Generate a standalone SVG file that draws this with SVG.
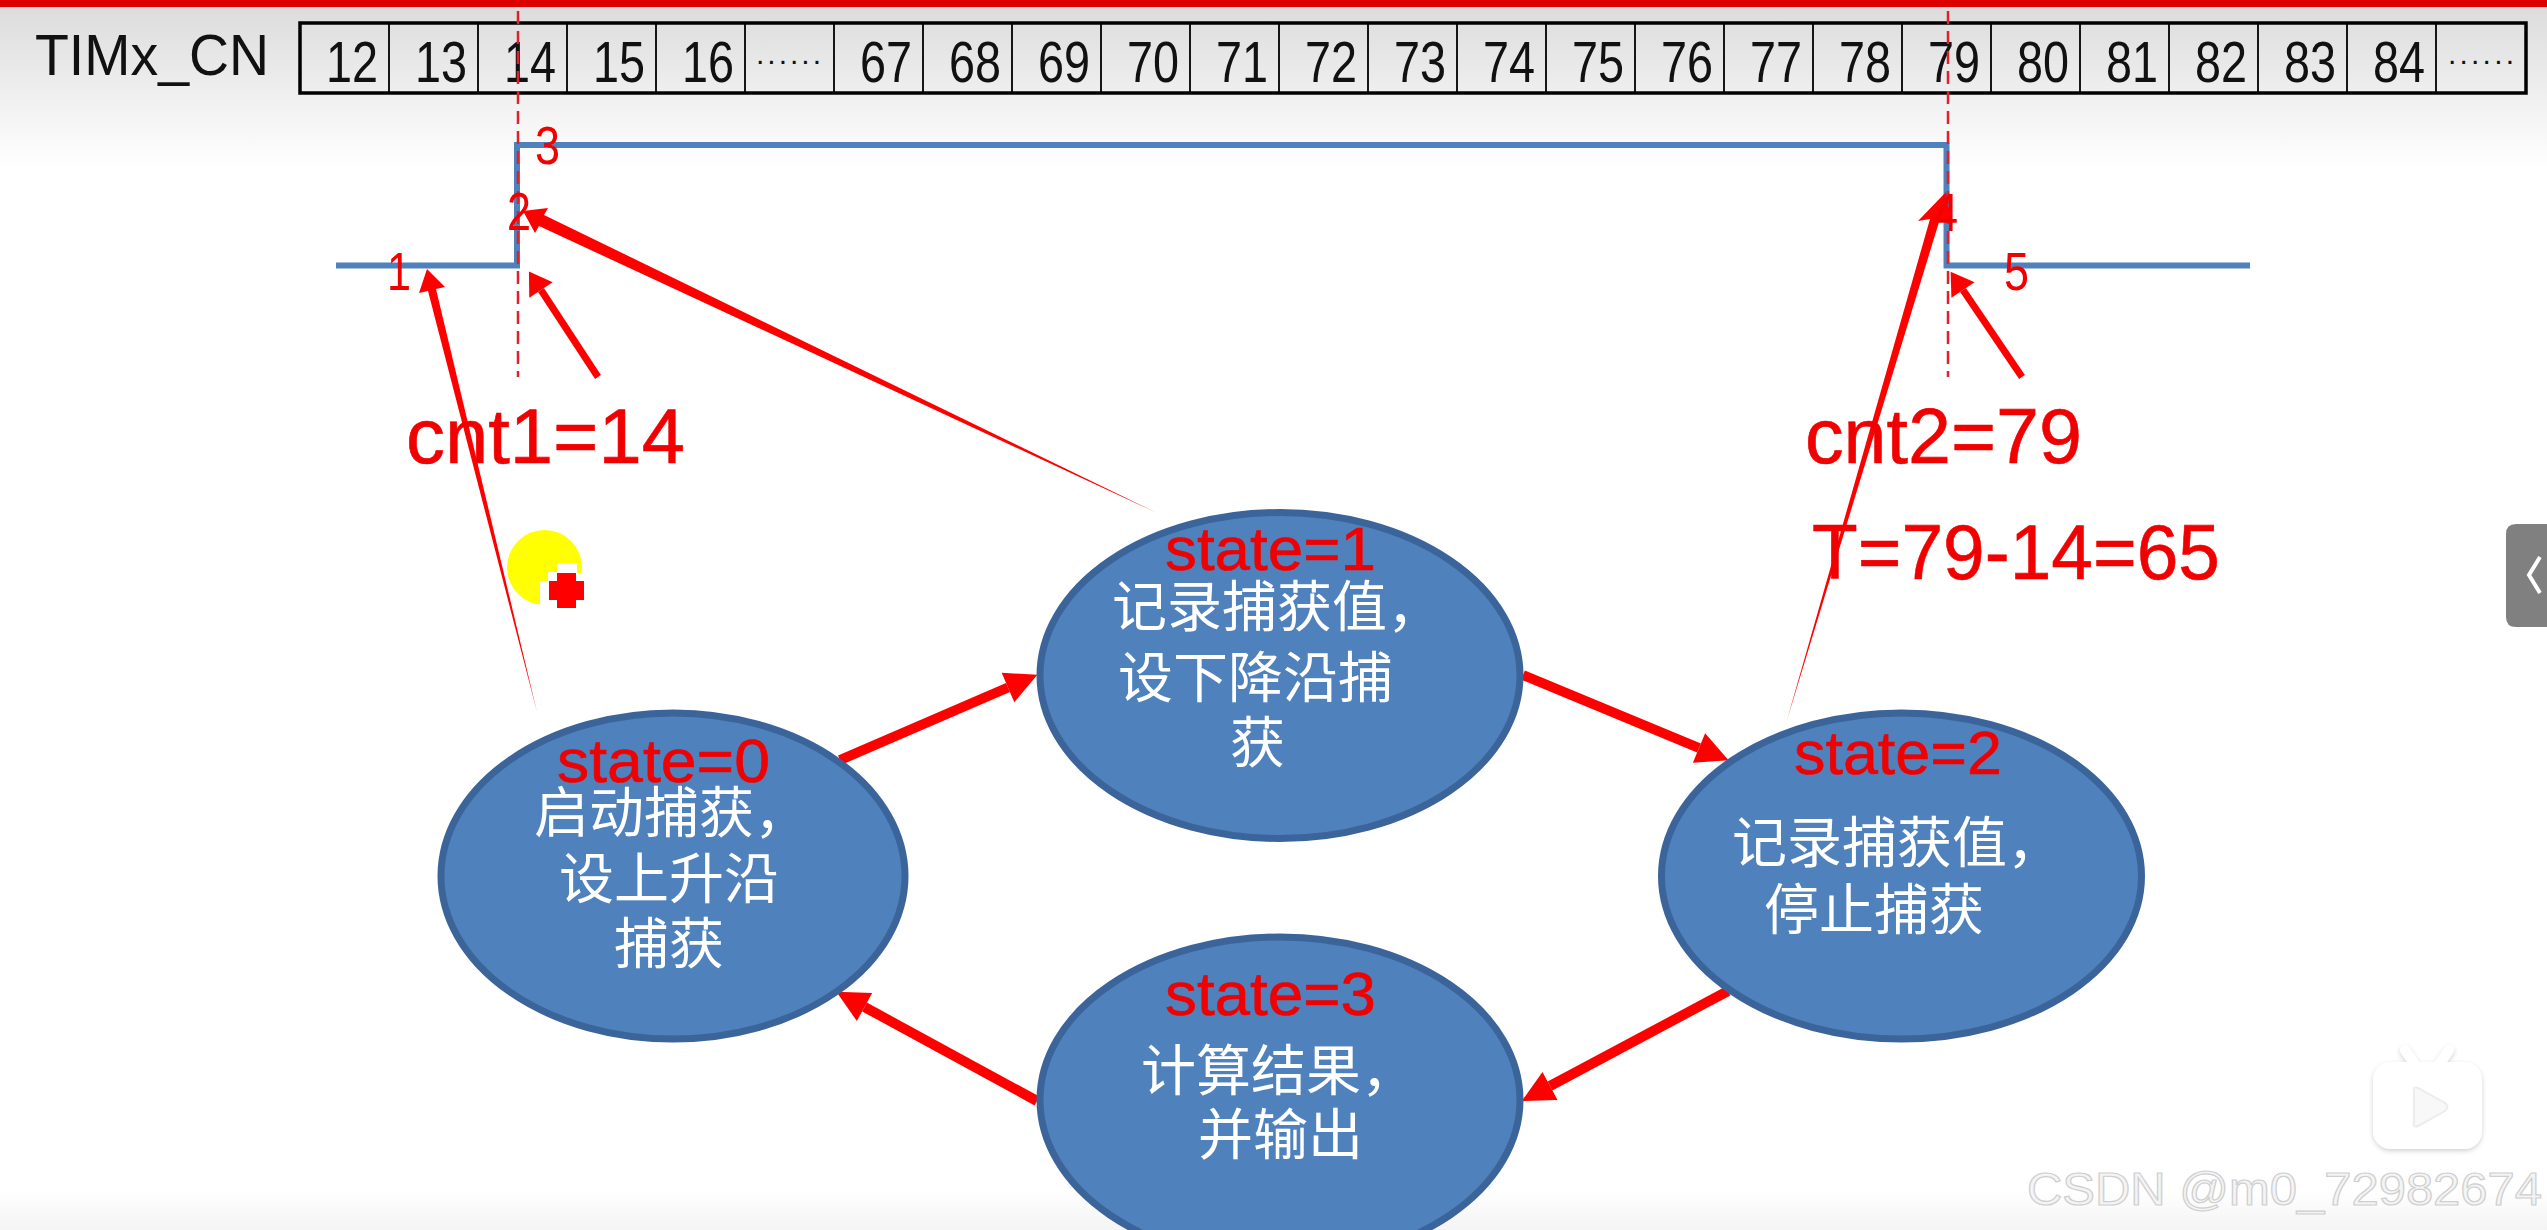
<svg xmlns="http://www.w3.org/2000/svg" width="2547" height="1230" viewBox="0 0 2547 1230">
<style>
text{font-family:"Liberation Sans",Arial,sans-serif}
.cell{fill:none;stroke:#000;stroke-width:1.8}
.num{font-size:57px;fill:#111}
.state{font-size:62px;fill:#f00000;stroke:#f00000;stroke-width:.6}
.big{font-size:78px;fill:#f00000;stroke:#f00000;stroke-width:.6}
.mark{font-size:54px;fill:#f00000}
.cn{font-family:"Noto Sans CJK SC","Liberation Sans",sans-serif;font-size:55px;fill:#fff}
.el{fill:#4f81bd;stroke:#3b659a;stroke-width:7}
.wave{fill:none;stroke:#4f81bd;stroke-width:6}
.dash{fill:none;stroke:#e0202c;stroke-width:2.500;stroke-dasharray:13 7}
.arrow{fill:none;stroke:#f00;stroke-width:10;marker-end:url(#head)}
.thin{fill:none;stroke:#f00;stroke-width:7;marker-end:url(#head2)}
.wedge{fill:#f00}
</style>
<defs>
<linearGradient id="top" x1="0" y1="0" x2="0" y2="1"><stop offset="0" stop-color="#dcdcdc"/><stop offset="1" stop-color="#fff"/></linearGradient>
<linearGradient id="bot" x1="0" y1="0" x2="0" y2="1"><stop offset="0" stop-color="#fff"/><stop offset="1" stop-color="#f4f4f4"/></linearGradient>
<marker id="head" markerUnits="userSpaceOnUse" markerWidth="34" markerHeight="32" refX="0" refY="16" orient="auto" overflow="visible"><polygon points="0,0 32,16 0,32" fill="#f00"/></marker>
<marker id="head2" markerUnits="userSpaceOnUse" markerWidth="24" markerHeight="28" refX="0" refY="14" orient="auto" overflow="visible"><polygon points="0,0 22,14 0,28" fill="#f00"/></marker>
<filter id="shadow" x="-20%" y="-20%" width="140%" height="140%"><feDropShadow dx="0" dy="2" stdDeviation="2.500" flood-color="#000" flood-opacity=".18"/></filter>
</defs>
<rect width="2547" height="1230" fill="#fff"/>
<rect y="7" width="2547" height="160" fill="url(#top)"/>
<rect y="1190" width="2547" height="40" fill="url(#bot)"/>
<rect width="2547" height="7" fill="#dc0000"/>

<g id="timeline">
<text x="35" y="75" class="num" textLength="234" lengthAdjust="spacingAndGlyphs">TIMx_CN</text>
<rect x="300" y="23" width="2226" height="70" class="cell" style="stroke-width:3.5"/>
<path class="cell" d="M389 23V93M478 23V93M567 23V93M656 23V93M745 23V93M834 23V93M923 23V93M1012 23V93M1101 23V93M1190 23V93M1279 23V93M1368 23V93M1457 23V93M1546 23V93M1635 23V93M1724 23V93M1813 23V93M1902 23V93M1991 23V93M2080 23V93M2169 23V93M2258 23V93M2347 23V93M2436 23V93"/>
<g class="num">
<text x="326" y="82" textLength="52" lengthAdjust="spacingAndGlyphs">12</text>
<text x="415" y="82" textLength="52" lengthAdjust="spacingAndGlyphs">13</text>
<text x="504" y="82" textLength="52" lengthAdjust="spacingAndGlyphs">14</text>
<text x="593" y="82" textLength="52" lengthAdjust="spacingAndGlyphs">15</text>
<text x="682" y="82" textLength="52" lengthAdjust="spacingAndGlyphs">16</text>
<text x="756" y="64" textLength="65" style="font-size:30px">......</text>
<text x="860" y="82" textLength="52" lengthAdjust="spacingAndGlyphs">67</text>
<text x="949" y="82" textLength="52" lengthAdjust="spacingAndGlyphs">68</text>
<text x="1038" y="82" textLength="52" lengthAdjust="spacingAndGlyphs">69</text>
<text x="1127" y="82" textLength="52" lengthAdjust="spacingAndGlyphs">70</text>
<text x="1216" y="82" textLength="52" lengthAdjust="spacingAndGlyphs">71</text>
<text x="1305" y="82" textLength="52" lengthAdjust="spacingAndGlyphs">72</text>
<text x="1394" y="82" textLength="52" lengthAdjust="spacingAndGlyphs">73</text>
<text x="1483" y="82" textLength="52" lengthAdjust="spacingAndGlyphs">74</text>
<text x="1572" y="82" textLength="52" lengthAdjust="spacingAndGlyphs">75</text>
<text x="1661" y="82" textLength="52" lengthAdjust="spacingAndGlyphs">76</text>
<text x="1750" y="82" textLength="52" lengthAdjust="spacingAndGlyphs">77</text>
<text x="1839" y="82" textLength="52" lengthAdjust="spacingAndGlyphs">78</text>
<text x="1928" y="82" textLength="52" lengthAdjust="spacingAndGlyphs">79</text>
<text x="2017" y="82" textLength="52" lengthAdjust="spacingAndGlyphs">80</text>
<text x="2106" y="82" textLength="52" lengthAdjust="spacingAndGlyphs">81</text>
<text x="2195" y="82" textLength="52" lengthAdjust="spacingAndGlyphs">82</text>
<text x="2284" y="82" textLength="52" lengthAdjust="spacingAndGlyphs">83</text>
<text x="2373" y="82" textLength="52" lengthAdjust="spacingAndGlyphs">84</text>
<text x="2448" y="64" textLength="66" style="font-size:30px">......</text>
</g>
</g>

<g id="waveform">
<path class="wave" d="M336 265.500H517V145H1946.500V265.500H2250"/>
<path class="dash" d="M518 11V377"/>
<path class="dash" d="M1948 11V377"/>
</g>

<g id="connectors">
<polygon class="wedge" points="537,712 436,289 445,287 427,269 419,293 428,291"/>
<polygon class="wedge" points="1157,513 544,215 548,208 523,211 535,233 539,226"/>
<polygon class="wedge" points="1787,720 1939,222 1951,220 1946,192 1918,221 1930,219"/>
<path class="thin" d="M598 377L541 290"/>
<path class="thin" d="M2022 377L1963 290"/>
<path class="arrow" d="M840 760L1008 687.500"/>
<path class="arrow" d="M1523 675L1699 748"/>
<path class="arrow" d="M1728 991L1550 1086"/>
<path class="arrow" d="M1037 1101L864.500 1007"/>
</g>

<g id="markers">
<text x="387" y="290" class="mark" textLength="24" lengthAdjust="spacingAndGlyphs">1</text>
<text x="507" y="230" class="mark" textLength="24" lengthAdjust="spacingAndGlyphs">2</text>
<text x="535" y="164" class="mark" textLength="25" lengthAdjust="spacingAndGlyphs">3</text>
<text x="1934" y="231" class="mark" textLength="24" lengthAdjust="spacingAndGlyphs">4</text>
<text x="2004" y="290" class="mark" textLength="25" lengthAdjust="spacingAndGlyphs">5</text>
</g>

<g id="formulas">
<text x="406" y="463" class="big" textLength="279" lengthAdjust="spacingAndGlyphs">cnt1=14</text>
<text x="1805" y="463" class="big" textLength="277" lengthAdjust="spacingAndGlyphs">cnt2=79</text>
<text x="1812" y="579" class="big" textLength="408" lengthAdjust="spacingAndGlyphs">T=79-14=65</text>
</g>

<g id="state0">
<ellipse class="el" cx="673" cy="876" rx="232" ry="163"/>
<text x="557" y="782" class="state" textLength="213" lengthAdjust="spacingAndGlyphs">state=0</text>
<text x="534" y="832" class="cn">启动捕获，</text>
<text x="559" y="898" class="cn">设上升沿</text>
<text x="614" y="963" class="cn">捕获</text>
</g>
<g id="state1">
<ellipse class="el" cx="1280" cy="675.500" rx="240" ry="163"/>
<text x="1165" y="570" class="state" textLength="211" lengthAdjust="spacingAndGlyphs">state=1</text>
<text x="1112" y="626" class="cn">记录捕获值，</text>
<text x="1118" y="697" class="cn">设下降沿捕</text>
<text x="1230" y="762" class="cn">获</text>
</g>
<g id="state2">
<ellipse class="el" cx="1901.500" cy="876" rx="240" ry="163"/>
<text x="1794" y="774" class="state" textLength="208" lengthAdjust="spacingAndGlyphs">state=2</text>
<text x="1732" y="862" class="cn">记录捕获值，</text>
<text x="1764" y="929" class="cn">停止捕获</text>
</g>
<g id="state3">
<ellipse class="el" cx="1280" cy="1100" rx="240" ry="163"/>
<text x="1165" y="1015" class="state" textLength="211" lengthAdjust="spacingAndGlyphs">state=3</text>
<text x="1141" y="1090" class="cn">计算结果，</text>
<text x="1198" y="1154" class="cn">并输出</text>
</g>

<g id="cursor">
<ellipse cx="544.500" cy="567.500" rx="37.500" ry="37.500" fill="#ffff00"/>
<path d="M557 563H577V573H584V608H540V581H548V572H557Z" fill="#fff"/>
<path d="M549 581H557V573H576V581H584V600H576V608H557V600H549Z" fill="#f00"/>
</g>

<g id="side-tab">
<path d="M2547 524H2516Q2506 524 2506 534V617Q2506 627 2516 627H2547Z" fill="#808080"/>
<path d="M2540 557L2529 575L2540 593" fill="none" stroke="#fff" stroke-width="4"/>
</g>

<g id="watermark">
<g filter="url(#shadow)">
<path d="M2405 1050L2416 1066M2449 1050L2438 1066" stroke="#fff" stroke-width="10" stroke-linecap="round"/>
<rect x="2373" y="1062" width="109" height="87" rx="18" fill="#fff"/>
</g>
<path d="M2414 1092Q2412 1086 2418 1088L2445 1103Q2450 1107 2445 1111L2418 1126Q2412 1128 2414 1122Z" fill="#f8f8f8" stroke="#ececec" stroke-width="2"/>
<text x="2027" y="1205" textLength="515" lengthAdjust="spacingAndGlyphs" style="font-size:46px;fill:#f4f4f4;stroke:#cfcfcf;stroke-width:1.2">CSDN @m0_72982674</text>
</g>
</svg>
